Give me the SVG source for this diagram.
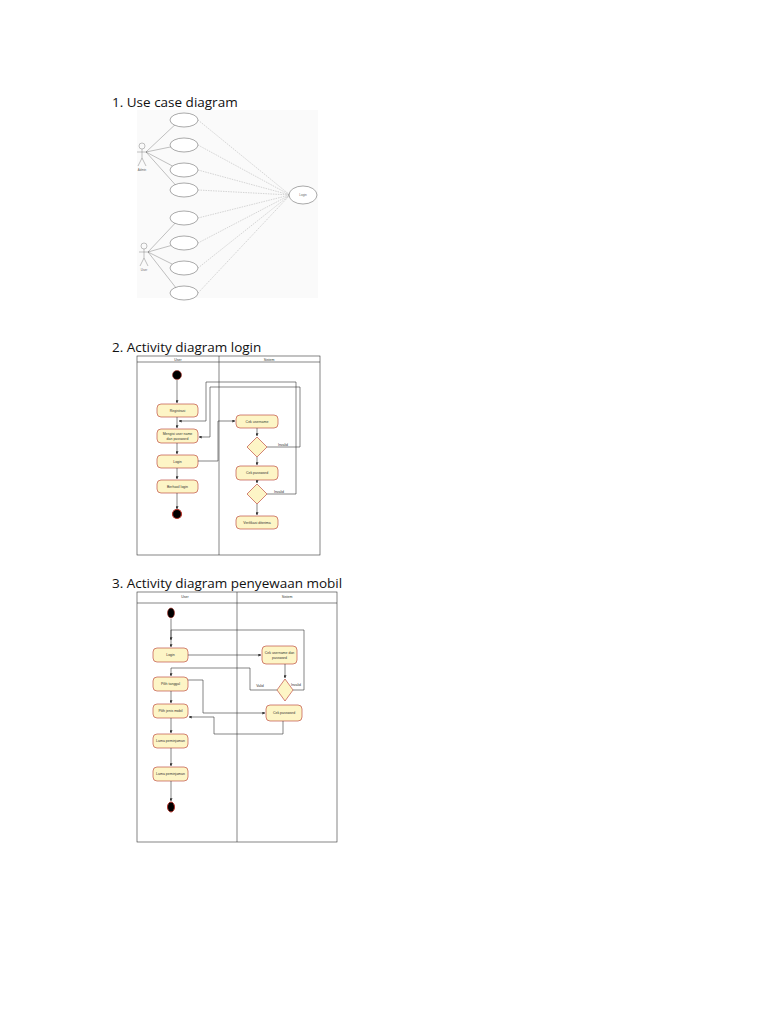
<svg xmlns="http://www.w3.org/2000/svg" width="768" height="1024" viewBox="0 0 768 1024">
<defs>
<marker id="a" markerWidth="5" markerHeight="5" refX="4.5" refY="2.5" orient="auto"><path d="M0,0 L5,2.5 L0,5 z" fill="#333"/></marker>
<style>
.h{font-family:"Open Sans","Liberation Sans",sans-serif;font-size:13.5px;fill:#111}
.t{font-family:"Liberation Sans",sans-serif;font-size:3.5px;fill:#333;text-anchor:middle}
.s{font-family:"Liberation Sans",sans-serif;font-size:3px;fill:#666;text-anchor:middle}
.uc{fill:#fff;stroke:#555;stroke-width:0.5}
.ln{stroke:#666;stroke-width:0.4;fill:none}
.dl{stroke:#999;stroke-width:0.4;fill:none;stroke-dasharray:1.5,1}
.box{fill:#fdf5c6;stroke:#b5332a;stroke-width:0.6}
.fr{fill:#fff;stroke:#333;stroke-width:0.6}
.c{stroke:#333;stroke-width:0.6;fill:none;marker-end:url(#a)}
</style>
</defs>
<rect width="768" height="1024" fill="#fff"/>
<text class="h" x="112" y="107">1.   Use case diagram</text>
<text class="h" x="112" y="352">2.   Activity diagram login</text>
<text class="h" x="112" y="588">3.   Activity diagram penyewaan mobil</text>

<g id="usecase">
<rect x="137" y="110" width="181" height="188" fill="#fafafa"/>
<g class="ln"><circle cx="142" cy="146" r="3"/><path d="M142,149 V158 M137,152 H147 M142,158 L138,166 M142,158 L146,166"/>
<circle cx="144" cy="246" r="3"/><path d="M144,249 V258 M139,252 H149 M144,258 L140,266 M144,258 L148,266"/>
<path d="M146,152 L180,120 M146,152 L180,145 M146,152 L180,170 M146,152 L180,190 M148,252 L180,218 M148,252 L180,243 M148,252 L180,268 M148,252 L180,293"/></g>
<g class="dl"><path d="M198,120 L290,195 M198,145 L290,195 M198,170 L290,195 M198,190 L290,195 M198,218 L290,195 M198,243 L290,195 M198,268 L290,195 M198,293 L290,195"/></g>
<ellipse class="uc" cx="184" cy="120" rx="14" ry="7"/><ellipse class="uc" cx="184" cy="145" rx="14" ry="7"/>
<ellipse class="uc" cx="184" cy="170" rx="14" ry="7"/><ellipse class="uc" cx="184" cy="190" rx="14" ry="7"/>
<ellipse class="uc" cx="184" cy="218" rx="14" ry="7"/><ellipse class="uc" cx="184" cy="243" rx="14" ry="7"/>
<ellipse class="uc" cx="184" cy="268" rx="14" ry="7"/><ellipse class="uc" cx="184" cy="293" rx="14" ry="7"/>
<ellipse class="uc" cx="303" cy="195" rx="14" ry="9"/>
<text class="s" x="142" y="171">Admin</text><text class="s" x="144" y="271">User</text>
<text class="s" x="303" y="196">Login</text>
</g>

<g id="login">
<rect class="fr" x="137" y="356" width="183" height="199"/>
<line x1="137" y1="362" x2="320" y2="362" stroke="#333" stroke-width="0.6"/>
<line x1="219" y1="356" x2="219" y2="555" stroke="#333" stroke-width="0.6"/>
<text class="t" x="178" y="360.5">User</text><text class="t" x="269" y="360.5">Sistem</text>
<g id="l-start"><circle cx="177" cy="375" r="4.5" fill="#000" stroke="#b5332a" stroke-width="0.6"/></g>
<g id="l-reg"><rect class="box" x="157" y="404" width="41" height="13" rx="4"/><text class="t" x="177.5" y="412">Registrasi</text></g>
<g id="l-isi"><rect class="box" x="157" y="429" width="41" height="14" rx="4"/><text class="t" x="177.5" y="435">Mengisi user name</text><text class="t" x="177.5" y="440">dan password</text></g>
<g id="l-login"><rect class="box" x="157" y="455" width="41" height="13" rx="4"/><text class="t" x="177.5" y="463">Login</text></g>
<g id="l-ok"><rect class="box" x="157" y="480" width="41" height="13" rx="4"/><text class="t" x="177.5" y="488">Berhasil login</text></g>
<g id="l-end"><circle cx="177" cy="514" r="4.5" fill="#000" stroke="#b5332a" stroke-width="1.2"/></g>
<g id="l-cu"><rect class="box" x="236" y="415" width="42" height="13" rx="4"/><text class="t" x="257" y="423">Cek username</text></g>
<g id="l-d1"><polygon class="box" points="257,437 267,447 257,457 247,447"/></g>
<g id="l-cp"><rect class="box" x="236" y="466" width="42" height="14" rx="4"/><text class="t" x="257" y="474">Cek password</text></g>
<g id="l-d2"><polygon class="box" points="257,484 267,494 257,504 247,494"/></g>
<g id="l-ver"><rect class="box" x="236" y="516" width="42" height="13" rx="4"/><text class="t" x="257" y="524">Verifikasi diterima</text></g>
<g id="l-conn">
<path class="c" d="M177,380 V403"/><path class="c" d="M177,417 V428"/><path class="c" d="M177,443 V454"/><path class="c" d="M177,468 V479"/><path class="c" d="M177,493 V509"/>
<path class="c" d="M198,461 H218 V421 H235"/>
<path class="c" d="M257,428 V436"/><path class="c" d="M257,457 V465"/><path class="c" d="M257,480 V483"/><path class="c" d="M257,504 V515"/>
<path class="c" d="M267,447 H300 V387 H210 V437 H199"/>
<path class="c" d="M267,494 H296 V382 H206 V421 H179"/>
<text class="t" x="283" y="445.5">Invalid</text><text class="t" x="279" y="492.5">Invalid</text>
</g>
</g>

<g id="sewa">
<rect class="fr" x="137" y="592" width="200" height="250"/>
<line x1="137" y1="603" x2="337" y2="603" stroke="#333" stroke-width="0.6"/>
<line x1="237" y1="592" x2="237" y2="842" stroke="#333" stroke-width="0.6"/>
<text class="t" x="185" y="598">User</text><text class="t" x="287" y="598">Sistem</text>
<g id="s-start"><ellipse cx="171" cy="613" rx="3.5" ry="5" fill="#000" stroke="#b5332a" stroke-width="0.6"/></g>
<g id="s-login"><rect class="box" x="153" y="648" width="35" height="14" rx="4"/><text class="t" x="170.5" y="656">Login</text></g>
<g id="s-cu"><rect class="box" x="262" y="646" width="35" height="18" rx="4"/><text class="t" x="279.5" y="654">Cek username dan</text><text class="t" x="279.5" y="659">password</text></g>
<g id="s-d"><polygon class="box" points="285,679 293,690 285,701 277,690"/></g>
<g id="s-tgl"><rect class="box" x="153" y="677" width="35" height="14" rx="4"/><text class="t" x="170.5" y="685">Pilih tanggal</text></g>
<g id="s-jenis"><rect class="box" x="153" y="704" width="35" height="14" rx="4"/><text class="t" x="170.5" y="712">Pilih jenis mobil</text></g>
<g id="s-cp"><rect class="box" x="266" y="705" width="36" height="16" rx="4"/><text class="t" x="284" y="714">Cek password</text></g>
<g id="s-l1"><rect class="box" x="153" y="734" width="35" height="14" rx="4"/><text class="t" x="170.5" y="742">Lama peminjaman</text></g>
<g id="s-l2"><rect class="box" x="153" y="767" width="35" height="14" rx="4"/><text class="t" x="170.5" y="775">Lama peminjaman</text></g>
<g id="s-end"><ellipse cx="171" cy="807" rx="3.5" ry="5" fill="#000" stroke="#b5332a" stroke-width="1"/></g>
<g id="s-conn">
<path class="c" d="M171,619 V647"/>
<path class="c" d="M188,655 H261"/>
<path class="c" d="M285,664 V678"/>
<path class="c" d="M293,690 H304 V630 H171 V640"/>
<path class="c" d="M277,690 H250 V668 H171 V676"/>
<path class="c" d="M171,691 V703"/><path class="c" d="M171,718 V733"/><path class="c" d="M171,748 V766"/><path class="c" d="M171,781 V801"/>
<path class="c" d="M188,680 H203 V713 H265"/>
<path class="c" d="M283,721 V734 H214 V717 H189"/>
<text class="t" x="260" y="687">Valid</text><text class="t" x="296" y="686">Invalid</text>
</g>
</g>
</svg>
